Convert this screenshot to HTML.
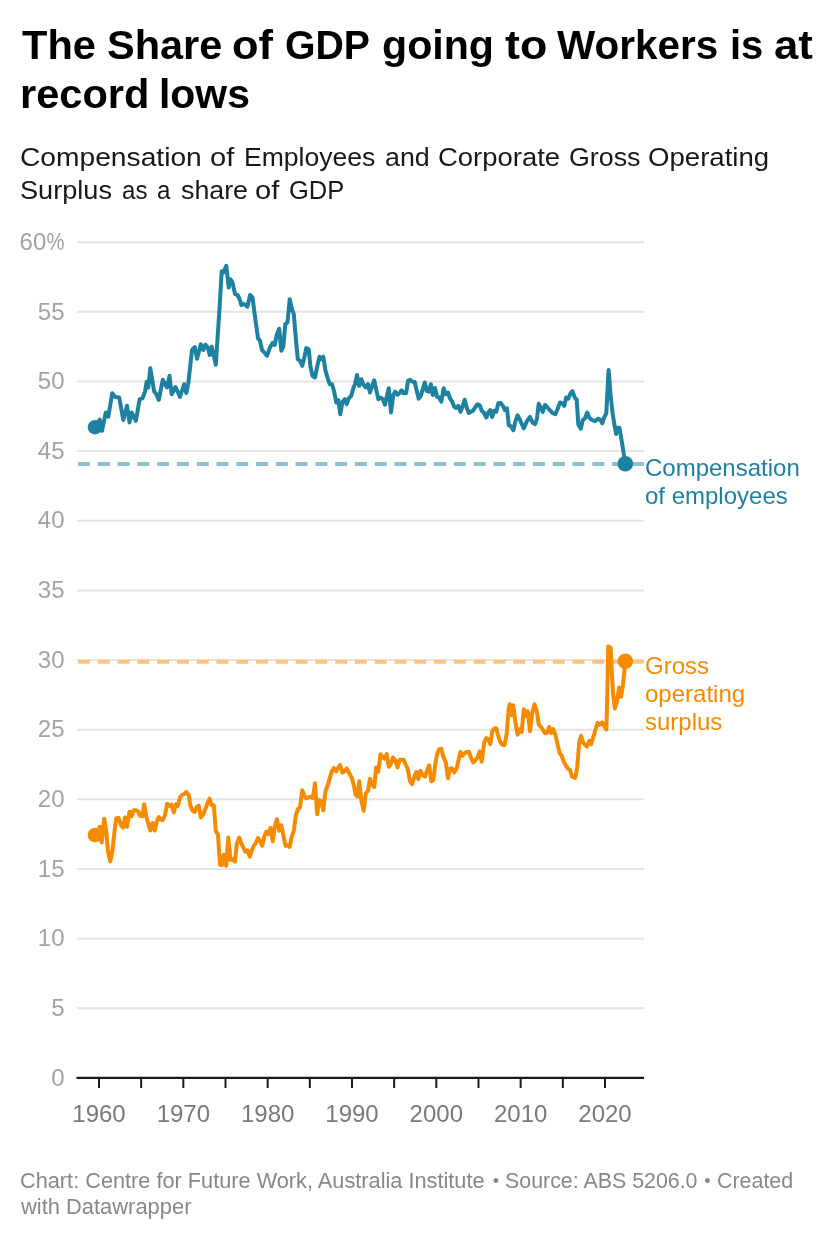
<!DOCTYPE html>
<html><head><meta charset="utf-8"><title>The Share of GDP going to Workers is at record lows</title>
<style>
html,body{margin:0;padding:0;background:#fff;}
body{width:840px;height:1240px;position:relative;overflow:hidden;font-family:"Liberation Sans",sans-serif;}
.w{position:absolute;white-space:nowrap;transform-origin:0 0;line-height:0;height:0;display:block;margin-top:-0.3465em;}
.t{font-weight:bold;font-size:40px;color:#000;}
.s{font-size:26px;color:#181818;}
.f{font-size:22px;color:#888;}
.b{font-size:18px;margin-left:-3.2px;margin-top:calc(-0.3465em - 1.5px);}
h1,h2,p{margin:0;padding:0;font:inherit;}
svg{position:absolute;left:0;top:0;}
svg text{font-family:"Liberation Sans",sans-serif;}
</style></head><body>
<h1><span class="w t" style="left:21.70px;top:59.0px;transform:scaleX(1.0391)">The</span> <span class="w t" style="left:106.66px;top:59.0px;transform:scaleX(1.0374)">Share</span> <span class="w t" style="left:231.62px;top:59.0px;transform:scaleX(1.0846)">of</span> <span class="w t" style="left:285.02px;top:59.0px;transform:scaleX(0.9800)">GDP</span> <span class="w t" style="left:382.27px;top:59.0px;transform:scaleX(1.0283)">going</span> <span class="w t" style="left:505.00px;top:59.0px;transform:scaleX(1.1200)">to</span> <span class="w t" style="left:556.70px;top:59.0px;transform:scaleX(1.0121)">Workers</span> <span class="w t" style="left:729.71px;top:59.0px;transform:scaleX(0.9962)">is</span> <span class="w t" style="left:773.90px;top:59.0px;transform:scaleX(1.0950)">at</span> <span class="w t" style="left:20.42px;top:107.5px;transform:scaleX(1.0395)">record</span> <span class="w t" style="left:158.65px;top:107.5px;transform:scaleX(1.0226)">lows</span></h1>
<h2><span class="w s" style="left:20.42px;top:165.8px;transform:scaleX(1.0842)">Compensation</span> <span class="w s" style="left:209.88px;top:165.8px;transform:scaleX(1.1200)">of</span> <span class="w s" style="left:243.96px;top:165.8px;transform:scaleX(1.0212)">Employees</span> <span class="w s" style="left:384.97px;top:165.8px;transform:scaleX(1.0313)">and</span> <span class="w s" style="left:438.44px;top:165.8px;transform:scaleX(1.0556)">Corporate</span> <span class="w s" style="left:568.97px;top:165.8px;transform:scaleX(1.0316)">Gross</span> <span class="w s" style="left:648.44px;top:165.8px;transform:scaleX(1.0607)">Operating</span> <span class="w s" style="left:20.46px;top:198.6px;transform:scaleX(1.0441)">Surplus</span> <span class="w s" style="left:122.07px;top:198.6px;transform:scaleX(0.9259)">as</span> <span class="w s" style="left:157.07px;top:198.6px;transform:scaleX(0.9286)">a</span> <span class="w s" style="left:180.50px;top:198.6px;transform:scaleX(1.0298)">share</span> <span class="w s" style="left:254.88px;top:198.6px;transform:scaleX(1.1184)">of</span> <span class="w s" style="left:288.52px;top:198.6px;transform:scaleX(0.9815)">GDP</span></h2>
<svg width="840" height="1240" viewBox="0 0 840 1240">
<g id="grid" stroke="#e4e4e4" stroke-width="2">
<line x1="77" x2="644" y1="1008.30" y2="1008.30"/><line x1="77" x2="644" y1="938.65" y2="938.65"/><line x1="77" x2="644" y1="869.00" y2="869.00"/><line x1="77" x2="644" y1="799.35" y2="799.35"/><line x1="77" x2="644" y1="729.70" y2="729.70"/><line x1="77" x2="644" y1="660.05" y2="660.05"/><line x1="77" x2="644" y1="590.40" y2="590.40"/><line x1="77" x2="644" y1="520.75" y2="520.75"/><line x1="77" x2="644" y1="451.10" y2="451.10"/><line x1="77" x2="644" y1="381.45" y2="381.45"/><line x1="77" x2="644" y1="311.80" y2="311.80"/><line x1="77" x2="644" y1="242.15" y2="242.15"/>
</g>
<g id="ylab" font-size="24" fill="#a3a3a3" text-anchor="end">
<text x="64.5" y="1085.65">0</text><text x="64.5" y="1016.00">5</text><text x="64.5" y="946.35">10</text><text x="64.5" y="876.70">15</text><text x="64.5" y="807.05">20</text><text x="64.5" y="737.40">25</text><text x="64.5" y="667.75">30</text><text x="64.5" y="598.10">35</text><text x="64.5" y="528.45">40</text><text x="64.5" y="458.80">45</text><text x="64.5" y="389.15">50</text><text x="64.5" y="319.50">55</text><text x="46.3" y="249.85">60</text><text x="64.5" y="249.85" textLength="18" lengthAdjust="spacingAndGlyphs">%</text>
</g>
<g id="xaxis">
<line x1="76.5" x2="644" y1="1077.9" y2="1077.9" stroke="#1a1a1a" stroke-width="2.4"/><line x1="99.00" x2="99.00" y1="1077.9" y2="1088" stroke="#1a1a1a" stroke-width="2"/><line x1="141.16" x2="141.16" y1="1077.9" y2="1088" stroke="#1a1a1a" stroke-width="2"/><line x1="183.33" x2="183.33" y1="1077.9" y2="1088" stroke="#1a1a1a" stroke-width="2"/><line x1="225.50" x2="225.50" y1="1077.9" y2="1088" stroke="#1a1a1a" stroke-width="2"/><line x1="267.66" x2="267.66" y1="1077.9" y2="1088" stroke="#1a1a1a" stroke-width="2"/><line x1="309.82" x2="309.82" y1="1077.9" y2="1088" stroke="#1a1a1a" stroke-width="2"/><line x1="351.99" x2="351.99" y1="1077.9" y2="1088" stroke="#1a1a1a" stroke-width="2"/><line x1="394.15" x2="394.15" y1="1077.9" y2="1088" stroke="#1a1a1a" stroke-width="2"/><line x1="436.32" x2="436.32" y1="1077.9" y2="1088" stroke="#1a1a1a" stroke-width="2"/><line x1="478.49" x2="478.49" y1="1077.9" y2="1088" stroke="#1a1a1a" stroke-width="2"/><line x1="520.65" x2="520.65" y1="1077.9" y2="1088" stroke="#1a1a1a" stroke-width="2"/><line x1="562.82" x2="562.82" y1="1077.9" y2="1088" stroke="#1a1a1a" stroke-width="2"/><line x1="604.98" x2="604.98" y1="1077.9" y2="1088" stroke="#1a1a1a" stroke-width="2"/><g font-size="24" fill="#7a7a7a" text-anchor="middle"><text x="99.00" y="1121.5">1960</text><text x="183.33" y="1121.5">1970</text><text x="267.66" y="1121.5">1980</text><text x="351.99" y="1121.5">1990</text><text x="436.32" y="1121.5">2000</text><text x="520.65" y="1121.5">2010</text><text x="604.98" y="1121.5">2020</text></g>
</g>
<g id="series">
<line x1="78" x2="644" y1="464" y2="464" stroke="#8ec0d0" stroke-width="4" stroke-dasharray="12 7.78"/>
<line x1="78" x2="644" y1="661.8" y2="661.8" stroke="#fac57f" stroke-width="4" stroke-dasharray="12 7.78"/>
<path d="M95.0,835.0 L98.0,832.5 L99.7,826.7 L101.7,842.5 L104.2,818.7 L106.2,830.8 L108.0,851.7 L110.3,861.3 L112.5,850.0 L114.7,830.0 L116.3,818.3 L118.7,818.0 L120.8,824.7 L123.0,827.5 L125.0,817.5 L127.0,826.7 L129.5,811.7 L131.7,816.3 L133.7,810.3 L136.3,810.3 L138.3,811.7 L140.0,815.8 L142.2,816.3 L144.2,804.2 L146.3,816.7 L148.3,823.7 L150.3,830.5 L152.5,823.0 L154.7,830.5 L156.7,821.7 L158.8,817.0 L160.8,819.7 L162.8,820.0 L165.0,815.0 L167.2,803.7 L169.2,805.8 L171.3,804.7 L173.8,812.5 L175.8,804.2 L177.8,805.8 L180.0,797.5 L182.0,795.0 L184.2,794.2 L186.3,792.0 L188.7,795.0 L190.5,805.8 L192.5,810.8 L194.7,812.0 L196.7,807.0 L198.8,805.8 L200.8,817.5 L203.3,814.2 L205.3,809.2 L207.5,803.3 L209.5,798.7 L211.7,805.3 L213.8,805.3 L215.8,830.8 L218.0,835.0 L220.0,864.7 L222.0,865.0 L223.8,854.7 L226.2,865.8 L228.3,837.5 L230.5,860.0 L232.5,859.2 L235.0,861.7 L236.7,844.2 L239.2,837.5 L241.3,843.3 L243.3,847.5 L245.3,851.7 L247.5,850.3 L249.7,856.7 L251.7,850.8 L253.8,845.8 L255.8,843.3 L258.0,838.0 L260.0,840.8 L262.2,845.8 L264.2,836.7 L266.3,831.7 L268.3,834.2 L270.5,828.0 L272.8,841.3 L274.7,826.7 L277.0,819.2 L279.2,830.8 L281.3,825.3 L283.3,835.0 L285.5,845.8 L287.5,845.0 L289.7,847.0 L291.7,836.7 L293.8,830.8 L295.8,815.8 L297.8,809.2 L300.0,807.5 L302.2,790.3 L304.2,795.3 L306.2,798.3 L308.3,797.5 L310.8,796.7 L312.8,798.0 L315.0,783.3 L317.2,814.2 L319.2,800.3 L321.3,801.3 L323.3,810.3 L325.5,791.3 L327.5,785.8 L329.5,779.2 L331.7,771.3 L333.8,768.0 L336.2,771.3 L338.0,768.0 L340.0,765.0 L342.5,772.5 L344.7,771.3 L346.7,768.3 L348.8,772.5 L352.0,778.3 L354.2,786.7 L355.5,794.7 L357.5,796.7 L359.2,781.3 L361.3,800.0 L363.7,810.8 L365.8,793.3 L368.0,790.8 L370.0,778.7 L372.2,785.0 L374.2,787.0 L376.2,767.5 L378.3,771.7 L380.5,754.2 L382.8,757.5 L384.7,758.7 L386.7,754.2 L388.8,766.7 L390.8,764.2 L393.0,757.5 L395.3,760.0 L397.5,767.5 L399.5,760.0 L401.7,759.7 L403.7,759.7 L405.8,765.0 L407.8,769.2 L409.7,780.0 L412.0,784.2 L414.2,777.5 L416.2,772.0 L418.3,779.2 L420.3,770.8 L422.5,775.0 L425.0,776.7 L427.2,770.0 L429.2,765.3 L431.2,781.3 L433.3,780.0 L435.3,764.2 L437.2,753.3 L439.2,749.2 L441.3,748.7 L443.3,756.7 L445.8,762.5 L448.0,778.3 L450.0,768.7 L452.0,768.3 L454.2,772.5 L456.7,768.3 L458.7,759.2 L460.5,752.0 L462.5,755.8 L464.7,753.3 L466.7,752.0 L468.8,751.7 L471.2,758.3 L473.3,762.5 L475.3,760.3 L477.5,757.5 L479.7,751.3 L481.7,761.7 L484.2,742.5 L486.3,738.0 L488.3,739.2 L490.3,744.2 L492.2,731.3 L494.2,728.7 L496.2,728.3 L498.0,735.0 L500.0,741.3 L502.2,744.7 L504.7,745.0 L506.7,733.3 L508.7,709.2 L509.7,704.2 L511.7,715.3 L513.3,705.3 L515.3,721.7 L517.5,734.7 L519.5,729.2 L521.7,732.0 L523.8,709.2 L525.8,715.8 L527.8,711.3 L530.0,731.3 L532.2,713.3 L534.5,704.2 L536.7,710.8 L538.7,724.2 L540.8,726.7 L543.0,730.0 L545.0,733.3 L547.2,732.5 L549.2,727.0 L551.3,733.0 L553.3,729.2 L555.5,735.0 L557.5,744.2 L559.7,753.3 L561.7,755.8 L563.8,761.7 L565.8,765.3 L568.0,768.7 L570.0,770.0 L572.2,776.7 L575.2,778.0 L577.2,767.5 L579.2,742.6 L581.1,735.8 L583.1,742.6 L587.0,746.6 L589.4,740.7 L591.2,744.2 L593.6,736.1 L597.5,723.0 L599.5,724.9 L602.1,722.3 L604.3,726.3 L606.4,729.5 L607.3,695.5 L608.2,646.4 L610.6,647.7 L611.9,673.2 L613.2,695.5 L614.8,708.6 L617.1,700.7 L619.1,687.6 L621.1,696.8 L623.0,685.0 L625.3,661.2" fill="none" stroke="#f68b00" stroke-width="4" stroke-linejoin="round" stroke-linecap="round"/>
<path d="M95.0,427.2 L99.7,419.7 L102.0,430.8 L105.8,412.5 L108.3,416.7 L112.2,393.3 L115.3,397.0 L119.2,397.5 L123.3,420.0 L127.0,405.8 L129.5,422.5 L131.7,412.5 L135.8,420.8 L139.7,399.2 L142.5,398.3 L145.0,391.7 L146.7,381.7 L148.3,387.5 L150.3,368.3 L154.2,391.7 L155.8,393.3 L158.8,400.0 L162.8,379.7 L167.0,387.5 L169.5,375.8 L171.7,394.2 L175.5,387.0 L180.0,397.0 L184.2,384.2 L186.3,393.0 L188.3,383.3 L192.0,350.0 L194.7,347.0 L197.0,358.7 L200.8,344.2 L203.3,350.0 L205.3,344.7 L207.8,347.5 L209.7,355.0 L211.7,346.7 L215.8,364.7 L219.2,313.3 L221.7,271.3 L223.3,272.5 L226.3,265.8 L228.7,287.5 L230.3,279.2 L232.5,282.5 L235.0,294.2 L237.5,295.0 L239.7,299.2 L241.3,305.0 L243.3,303.7 L245.3,304.7 L247.5,306.7 L250.0,295.0 L252.5,297.5 L255.0,316.7 L258.0,338.3 L260.0,340.8 L262.0,350.0 L264.2,352.5 L267.0,355.8 L270.0,347.5 L272.5,343.0 L274.7,345.0 L276.7,335.0 L279.2,328.7 L281.3,350.8 L283.3,346.7 L285.3,324.2 L287.5,322.5 L289.7,299.2 L291.7,308.3 L293.8,314.2 L295.8,338.3 L297.8,359.2 L300.0,360.8 L302.2,365.8 L304.2,358.3 L306.3,348.0 L308.7,349.2 L310.5,366.7 L312.5,375.8 L315.0,377.5 L317.5,365.0 L319.5,356.7 L321.3,359.2 L323.3,356.7 L325.3,370.0 L327.5,377.5 L329.7,384.2 L332.0,384.2 L334.2,391.7 L336.2,402.5 L338.3,400.0 L340.3,414.2 L342.5,401.7 L344.7,399.2 L346.7,404.2 L348.7,398.3 L351.2,395.8 L353.3,388.3 L355.0,384.2 L357.0,375.0 L359.2,385.8 L361.3,379.2 L363.7,385.0 L365.8,387.5 L368.0,384.2 L370.0,392.5 L372.2,385.8 L374.2,380.3 L376.3,390.0 L378.3,399.2 L380.5,397.5 L382.8,399.2 L385.0,404.7 L387.0,395.8 L388.8,388.3 L391.0,412.5 L393.3,395.0 L395.3,391.7 L397.5,394.7 L399.7,393.0 L401.7,390.3 L403.7,393.3 L406.2,393.0 L408.0,380.8 L410.0,379.7 L412.5,381.7 L414.7,382.0 L416.7,390.8 L418.7,398.7 L420.8,395.8 L422.8,389.2 L424.7,382.5 L426.7,390.8 L428.8,391.7 L430.8,384.2 L432.8,395.0 L435.0,388.0 L437.0,396.7 L439.2,397.5 L441.3,401.7 L443.7,388.3 L445.8,394.2 L448.0,392.5 L450.0,398.3 L452.0,401.3 L454.2,406.7 L456.3,408.0 L458.3,405.8 L460.5,411.7 L462.5,406.7 L464.7,399.7 L466.7,407.5 L468.8,413.0 L470.8,411.7 L473.0,410.8 L475.0,407.5 L477.5,404.2 L479.7,405.3 L481.7,410.8 L483.8,412.5 L486.3,417.5 L488.3,412.5 L490.3,410.0 L492.2,417.0 L494.2,410.8 L496.3,411.7 L498.3,403.3 L500.8,403.0 L503.3,406.7 L505.0,410.0 L507.0,408.3 L508.8,425.3 L510.8,426.3 L513.3,430.3 L515.3,421.7 L517.5,415.3 L520.0,420.0 L523.7,428.3 L526.7,421.7 L530.0,417.0 L532.5,422.5 L535.0,424.2 L537.0,418.3 L538.7,403.7 L540.8,407.5 L542.8,412.0 L545.0,405.0 L547.5,407.5 L550.0,410.3 L552.5,413.0 L555.3,414.2 L557.5,409.2 L560.0,402.5 L562.5,403.3 L564.2,405.8 L566.2,397.5 L568.3,398.7 L570.5,393.3 L572.5,391.2 L574.7,397.5 L576.7,399.7 L578.3,424.2 L580.8,428.7 L582.8,420.0 L585.0,418.3 L587.2,412.5 L589.2,417.5 L591.7,419.7 L595.0,421.2 L598.3,418.7 L600.3,419.7 L602.2,423.3 L604.2,417.5 L606.3,413.3 L608.6,369.9 L610.6,395.0 L612.6,413.3 L614.5,425.1 L616.1,434.0 L617.4,427.7 L619.5,428.0 L621.7,440.8 L625.3,463.8" fill="none" stroke="#1d81a2" stroke-width="4" stroke-linejoin="round" stroke-linecap="round"/>
<circle cx="95.0" cy="427.2" r="7.3" fill="#1d81a2"/><circle cx="625.3" cy="463.8" r="7.8" fill="#1d81a2"/>
<circle cx="95.0" cy="835.0" r="7.3" fill="#f68b00"/><circle cx="625.3" cy="661.2" r="7.8" fill="#f68b00"/>
<g font-size="24" fill="#1d81a2"><text x="645" y="476">Compensation</text><text x="645" y="504">of employees</text></g>
<g font-size="24" fill="#f68b00"><text x="645" y="673.5">Gross</text><text x="645" y="701.5">operating</text><text x="645" y="729.5">surplus</text></g>
</g>
</svg>
<p><span class="w f" style="left:20.01px;top:1188.4px;transform:scaleX(0.9876)">Chart: Centre for Future Work, Australia Institute</span> <span class="w f b" style="left:496.0px;top:1188.4px">•</span> <span class="w f" style="left:505.03px;top:1188.4px;transform:scaleX(0.9716)">Source: ABS 5206.0</span> <span class="w f b" style="left:707.5px;top:1188.4px">•</span> <span class="w f" style="left:716.53px;top:1188.4px;transform:scaleX(0.9733)">Created</span> <span class="w f" style="left:20.60px;top:1214.4px;transform:scaleX(0.9956)">with Datawrapper</span></p>
</body></html>
